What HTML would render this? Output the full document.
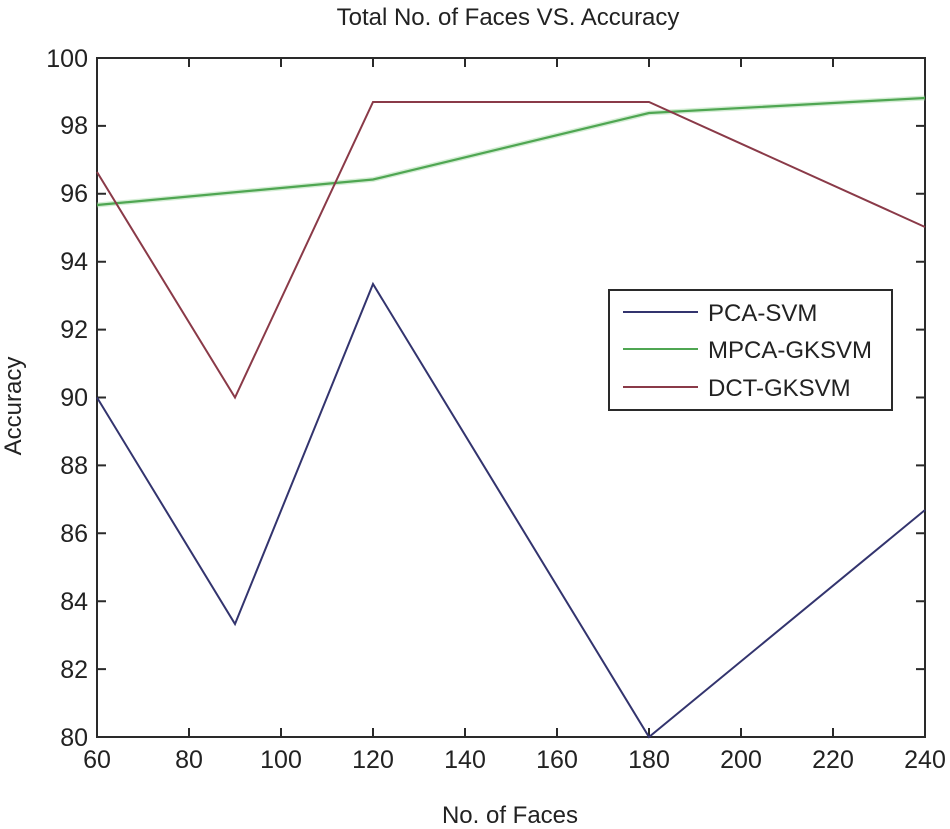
<!DOCTYPE html>
<html><head><meta charset="utf-8"><style>
html,body{margin:0;padding:0;background:#fff;}
svg{display:block;}
text{font-family:"Liberation Sans",sans-serif;fill:#222;}
</style></head><body>
<svg width="950" height="829" viewBox="0 0 950 829" xmlns="http://www.w3.org/2000/svg">
<rect width="950" height="829" fill="#fff"/>
<text x="508" y="25" font-size="24" text-anchor="middle">Total No. of Faces VS. Accuracy</text>
<g stroke="#2a2a2a" stroke-width="2" fill="none">
<rect x="97" y="58" width="828" height="679"/>
<path d="M189 737v-9M281 737v-9M373 737v-9M465 737v-9M557 737v-9M649 737v-9M741 737v-9M833 737v-9
M189 58v9M281 58v9M373 58v9M465 58v9M557 58v9M649 58v9M741 58v9M833 58v9
M97 669.1h9M97 601.2h9M97 533.3h9M97 465.4h9M97 397.5h9M97 329.6h9M97 261.7h9M97 193.8h9M97 125.9h9
M925 669.1h-9M925 601.2h-9M925 533.3h-9M925 465.4h-9M925 397.5h-9M925 329.6h-9M925 261.7h-9M925 193.8h-9M925 125.9h-9"/>
</g>
<g font-size="25" text-anchor="end">
<text x="88" y="746">80</text>
<text x="88" y="678">82</text>
<text x="88" y="610">84</text>
<text x="88" y="542">86</text>
<text x="88" y="474">88</text>
<text x="88" y="406">90</text>
<text x="88" y="338">92</text>
<text x="88" y="270">94</text>
<text x="88" y="202">96</text>
<text x="88" y="134">98</text>
<text x="88" y="67">100</text>
</g>
<g font-size="25" text-anchor="middle">
<text x="97" y="768">60</text>
<text x="189" y="768">80</text>
<text x="281" y="768">100</text>
<text x="373" y="768">120</text>
<text x="465" y="768">140</text>
<text x="557" y="768">160</text>
<text x="649" y="768">180</text>
<text x="741" y="768">200</text>
<text x="833" y="768">220</text>
<text x="925" y="768">240</text>
</g>
<text x="510" y="823" font-size="24" text-anchor="middle">No. of Faces</text>
<text transform="translate(21,406) rotate(-90)" font-size="24" text-anchor="middle">Accuracy</text>
<polyline fill="none" stroke="#9fd89f" stroke-width="5" stroke-opacity="0.45" points="97,205 373,179.5 649,113 925,98"/>
<polyline fill="none" stroke="#4fa652" stroke-width="2.2" points="97,205 373,179.5 649,113 925,98"/>
<polyline fill="none" stroke="#8a3a48" stroke-width="2" points="97,172 235,397.5 373,102 649,102 925,227"/>
<polyline fill="none" stroke="#33346e" stroke-width="2" points="97,397.5 235,624 373,284 649,737 925,510"/>
<rect x="609" y="290" width="283" height="120" fill="#fff" stroke="#2a2a2a" stroke-width="2"/>
<line x1="623" y1="312" x2="698" y2="312" stroke="#33346e" stroke-width="2"/>
<line x1="623" y1="349" x2="698" y2="349" stroke="#4fa652" stroke-width="2"/>
<line x1="623" y1="387" x2="698" y2="387" stroke="#8a3a48" stroke-width="2"/>
<g font-size="24">
<text x="708" y="321">PCA-SVM</text>
<text x="708" y="358">MPCA-GKSVM</text>
<text x="708" y="396">DCT-GKSVM</text>
</g>
</svg>
</body></html>
